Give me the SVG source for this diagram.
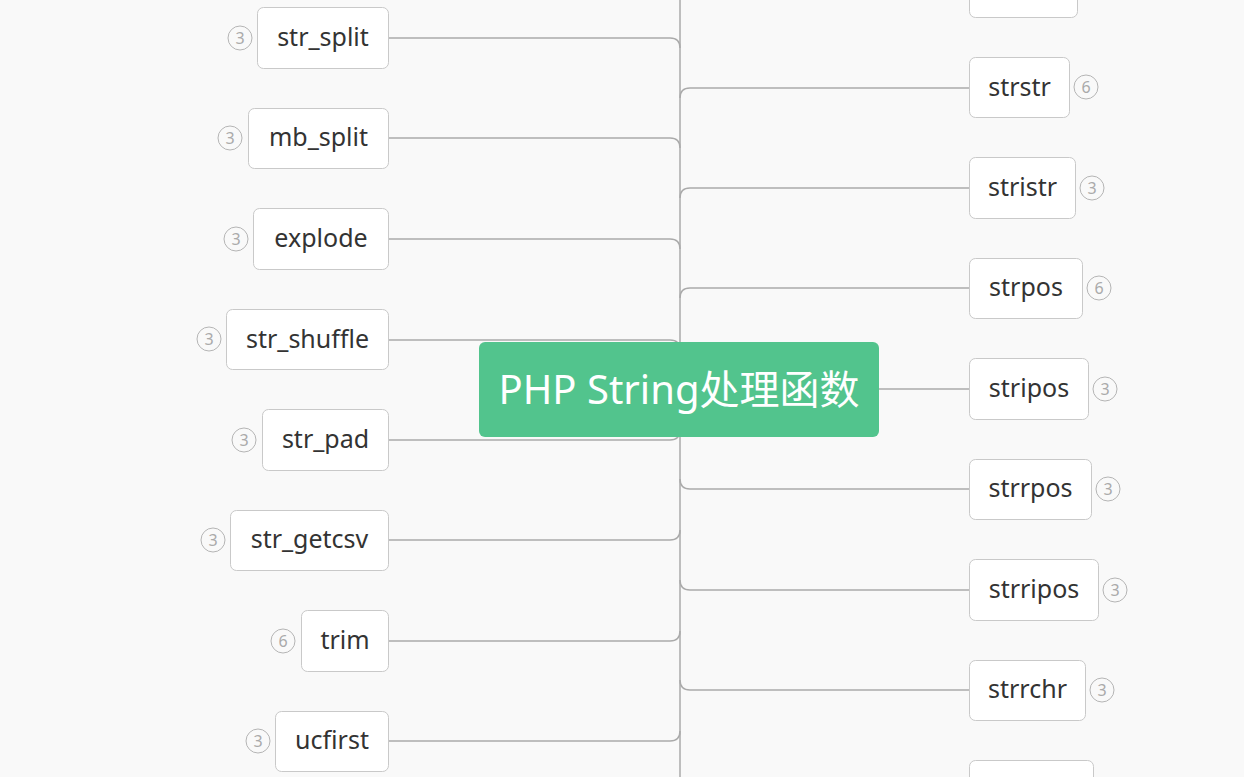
<svg xmlns="http://www.w3.org/2000/svg" width="1244" height="777" viewBox="0 0 1244 777">
<style>
.bg{fill:#f9f9f9}
.c{fill:none;stroke:#aaaaaa;stroke-width:1.5}
.n rect{fill:#ffffff;stroke:#c9c9c9;stroke-width:1}
.n text{font-family:"Noto Sans","Open Sans",sans-serif;font-size:25px;fill:#333333;text-anchor:middle;dominant-baseline:central}
.b circle{fill:none;stroke:#b5b5b5;stroke-width:1}
.b text{font-family:"Noto Sans","Open Sans",sans-serif;font-size:16px;fill:#aaaaaa;text-anchor:middle;dominant-baseline:central}
</style>
<rect class="bg" x="0" y="0" width="1244" height="777"/>
<g id="connectors">
<path class="c" d="M680,0 V777"/>
<path class="c" d="M389,38 H670 Q680,38 680,48"/>
<path class="c" d="M389,138 H670 Q680,138 680,148"/>
<path class="c" d="M389,239 H670 Q680,239 680,249"/>
<path class="c" d="M389,340 H670 Q680,340 680,350"/>
<path class="c" d="M389,440 H670 Q680,440 680,430"/>
<path class="c" d="M389,540 H670 Q680,540 680,530"/>
<path class="c" d="M389,641 H670 Q680,641 680,631"/>
<path class="c" d="M389,741 H670 Q680,741 680,731"/>
<path class="c" d="M969,88 H690 Q680,88 680,98"/>
<path class="c" d="M969,188 H690 Q680,188 680,198"/>
<path class="c" d="M969,288 H690 Q680,288 680,298"/>
<path class="c" d="M969,389 H680"/>
<path class="c" d="M969,489 H690 Q680,489 680,479"/>
<path class="c" d="M969,590 H690 Q680,590 680,580"/>
<path class="c" d="M969,690 H690 Q680,690 680,680"/>
</g>
<g id="center">
<rect x="479" y="342" width="400" height="95" rx="6" fill="#52c48d"/>
<text x="679" y="388" font-family="'Noto Sans','Noto Sans CJK SC',sans-serif" font-size="40" fill="#ffffff" text-anchor="middle" dominant-baseline="central">PHP String处理函数</text>
</g>
<g id="n-str_split" class="n"><rect x="257.5" y="7.5" width="131" height="61" rx="6"/><text x="323" y="36">str_split</text></g>
<g id="b-str_split" class="b"><circle cx="240" cy="38" r="12"/><text x="240" y="38">3</text></g>
<g id="n-mb_split" class="n"><rect x="248.5" y="108.5" width="140" height="60" rx="6"/><text x="318.5" y="136">mb_split</text></g>
<g id="b-mb_split" class="b"><circle cx="230" cy="138" r="12"/><text x="230" y="138">3</text></g>
<g id="n-explode" class="n"><rect x="253.5" y="208.5" width="135" height="61" rx="6"/><text x="321" y="237">explode</text></g>
<g id="b-explode" class="b"><circle cx="236" cy="239" r="12"/><text x="236" y="239">3</text></g>
<g id="n-str_shuffle" class="n"><rect x="226.5" y="309.5" width="162" height="60" rx="6"/><text x="307.5" y="338">str_shuffle</text></g>
<g id="b-str_shuffle" class="b"><circle cx="209" cy="339" r="12"/><text x="209" y="339">3</text></g>
<g id="n-str_pad" class="n"><rect x="262.5" y="409.5" width="126" height="61" rx="6"/><text x="325.5" y="438">str_pad</text></g>
<g id="b-str_pad" class="b"><circle cx="244" cy="440" r="12"/><text x="244" y="440">3</text></g>
<g id="n-str_getcsv" class="n"><rect x="230.5" y="510.5" width="158" height="60" rx="6"/><text x="309.5" y="538">str_getcsv</text></g>
<g id="b-str_getcsv" class="b"><circle cx="213" cy="540" r="12"/><text x="213" y="540">3</text></g>
<g id="n-trim" class="n"><rect x="301.5" y="610.5" width="87" height="61" rx="6"/><text x="345" y="639">trim</text></g>
<g id="b-trim" class="b"><circle cx="283" cy="641" r="12"/><text x="283" y="641">6</text></g>
<g id="n-ucfirst" class="n"><rect x="275.5" y="711.5" width="113" height="60" rx="6"/><text x="332" y="739">ucfirst</text></g>
<g id="b-ucfirst" class="b"><circle cx="258" cy="741" r="12"/><text x="258" y="741">3</text></g>
<g id="n-top" class="n"><rect x="969.5" y="-43.5" width="108" height="61" rx="6"/></g>
<g id="n-strstr" class="n"><rect x="969.5" y="57.5" width="100" height="60" rx="6"/><text x="1019.5" y="86">strstr</text></g>
<g id="b-strstr" class="b"><circle cx="1086" cy="87" r="12"/><text x="1086" y="87">6</text></g>
<g id="n-stristr" class="n"><rect x="969.5" y="157.5" width="106" height="61" rx="6"/><text x="1022.5" y="186">stristr</text></g>
<g id="b-stristr" class="b"><circle cx="1092" cy="188" r="12"/><text x="1092" y="188">3</text></g>
<g id="n-strpos" class="n"><rect x="969.5" y="258.5" width="113" height="60" rx="6"/><text x="1026" y="286">strpos</text></g>
<g id="b-strpos" class="b"><circle cx="1099" cy="288" r="12"/><text x="1099" y="288">6</text></g>
<g id="n-stripos" class="n"><rect x="969.5" y="358.5" width="119" height="61" rx="6"/><text x="1029" y="387">stripos</text></g>
<g id="b-stripos" class="b"><circle cx="1105" cy="389" r="12"/><text x="1105" y="389">3</text></g>
<g id="n-strrpos" class="n"><rect x="969.5" y="459.5" width="122" height="60" rx="6"/><text x="1030.5" y="487">strrpos</text></g>
<g id="b-strrpos" class="b"><circle cx="1108" cy="489" r="12"/><text x="1108" y="489">3</text></g>
<g id="n-strripos" class="n"><rect x="969.5" y="559.5" width="129" height="61" rx="6"/><text x="1034" y="588">strripos</text></g>
<g id="b-strripos" class="b"><circle cx="1115" cy="590" r="12"/><text x="1115" y="590">3</text></g>
<g id="n-strrchr" class="n"><rect x="969.5" y="660.5" width="116" height="60" rx="6"/><text x="1027.5" y="688">strrchr</text></g>
<g id="b-strrchr" class="b"><circle cx="1102" cy="690" r="12"/><text x="1102" y="690">3</text></g>
<g id="n-bottom" class="n"><rect x="969.5" y="760.5" width="124" height="61" rx="6"/></g>
</svg>
